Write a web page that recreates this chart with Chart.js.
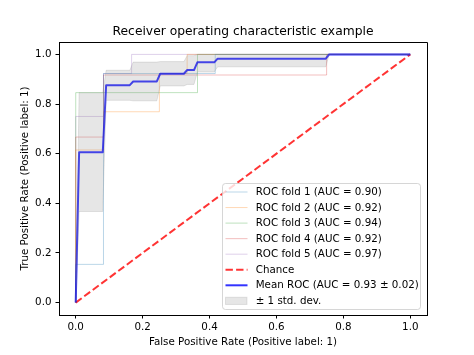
<!DOCTYPE html>
<html><head><meta charset="utf-8">
<script src="https://cdn.jsdelivr.net/npm/chart.js@4"></script>
<style>html,body{margin:0;padding:0;background:#fff;}#wrap{width:474px;height:355px;}</style>
</head><body><div id="wrap"><canvas id="c" width="474" height="355"></canvas></div>
<script>
// ---- data ----
const fold1X = [0, 0, 0.083, 0.083, 0.417, 0.417, 1];
const fold1Y = [0, 0.154, 0.154, 0.923, 0.923, 1, 1];
const fold2X = [0, 0, 0.083, 0.083, 0.25, 0.25, 0.333, 0.333, 1];
const fold2Y = [0, 0.615, 0.615, 0.769, 0.769, 0.923, 0.923, 1, 1];
const fold3X = [0, 0, 0.364, 0.364, 1];
const fold3Y = [0, 0.846, 0.846, 1, 1];
const fold4X = [0, 0, 0.083, 0.083, 0.75, 0.75, 1];
const fold4Y = [0, 0.667, 0.667, 0.917, 0.917, 1, 1];
const fold5X = [0, 0, 0.083, 0.083, 0.167, 0.167, 1];
const fold5Y = [0, 0.75, 0.75, 0.923, 0.923, 1, 1];
const foldAUC = [0.90, 0.92, 0.94, 0.92, 0.97];

const chanceX = [0, 1];
const chanceY = [0, 1];

const meanX     = [0, 0.0101, 0.0808, 0.0909, 0.1616, 0.1717, 0.2424, 0.2525, 0.3232, 0.3333, 0.3535, 0.3636, 0.4141, 0.4242, 0.7475, 0.7576, 1.0];
const meanY     = [0, 0.606, 0.606, 0.876, 0.876, 0.891, 0.891, 0.922, 0.922, 0.937, 0.937, 0.968, 0.968, 0.983, 0.983, 1.0, 1.0];
const bandUpper = [0, 0.846, 0.846, 0.936, 0.936, 0.969, 0.969, 0.971, 0.971, 0.995, 0.995, 1.0, 1.0, 1.0, 1.0, 1.0, 1.0];
const bandLower = [0, 0.367, 0.367, 0.815, 0.815, 0.813, 0.813, 0.873, 0.873, 0.879, 0.879, 0.929, 0.929, 0.950, 0.950, 1.0, 1.0];
const meanAUC = 0.93, stdAUC = 0.02;

const xTicks = [0, 0.2, 0.4, 0.6, 0.8, 1.0];
const yTicks = [0, 0.2, 0.4, 0.6, 0.8, 1.0];

const titleText = 'Receiver operating characteristic example';
const xLabel = 'False Positive Rate (Positive label: 1)';
const yLabel = 'True Positive Rate (Positive label: 1)';

// ---- build ----
const pts = (xs, ys) => xs.map((x, i) => ({x: x, y: ys[i]}));
const foldColors = ['rgba(31,119,180,0.3)', 'rgba(255,127,14,0.3)', 'rgba(44,160,44,0.3)', 'rgba(214,39,40,0.3)', 'rgba(148,103,189,0.3)'];
const foldXs = [fold1X, fold2X, fold3X, fold4X, fold5X];
const foldYs = [fold1Y, fold2Y, fold3Y, fold4Y, fold5Y];
const FONT = "'DejaVu Sans', 'Liberation Sans', sans-serif";

const datasets = foldXs.map((xs, i) => ({
  label: 'ROC fold ' + (i + 1) + ' (AUC = ' + foldAUC[i].toFixed(2) + ')',
  data: pts(xs, foldYs[i]), borderColor: foldColors[i], borderWidth: 1,
  pointRadius: 0, fill: false, order: 10, legendKind: 'line'
}));
datasets.push({label: 'Chance', data: pts(chanceX, chanceY), borderColor: 'rgba(255,0,0,0.8)',
  borderWidth: 2, borderDash: [7.4, 3.2], pointRadius: 0, fill: false, order: 9, legendKind: 'line'});
datasets.push({label: 'Mean ROC (AUC = ' + meanAUC.toFixed(2) + ' \u00b1 ' + stdAUC.toFixed(2) + ')',
  data: pts(meanX, meanY), borderColor: 'rgba(0,0,255,0.8)', borderWidth: 2, borderJoinStyle: 'round',
  pointRadius: 0, fill: false, order: 8, legendKind: 'line'});
datasets.push({label: '\u00b1 1 std. dev.', data: pts(meanX, bandUpper), borderColor: 'rgba(128,128,128,0.2)',
  borderWidth: 1, backgroundColor: 'rgba(128,128,128,0.2)', pointRadius: 0, fill: '+1', order: 7, legendKind: 'patch'});
datasets.push({label: '', data: pts(meanX, bandLower), borderColor: 'rgba(128,128,128,0.2)',
  borderWidth: 1, pointRadius: 0, fill: false, order: 7, legendKind: 'none'});

const decor = {
  id: 'decor',
  afterDraw(chart) {
    const ctx = chart.ctx, a = chart.chartArea;
    ctx.save();
    // top & right spines
    ctx.strokeStyle = '#000'; ctx.lineWidth = 1;
    ctx.beginPath();
    ctx.moveTo(Math.round(a.left), Math.round(a.top) + 0.5);
    ctx.lineTo(Math.round(a.right) + 0.5, Math.round(a.top) + 0.5);
    ctx.lineTo(Math.round(a.right) + 0.5, Math.round(a.bottom));
    ctx.stroke();
    // title
    ctx.fillStyle = '#000';
    ctx.textAlign = 'center'; ctx.textBaseline = 'middle';
    ctx.font = '12.3px ' + FONT;
    ctx.fillText(titleText, (a.left + a.right) / 2, 32);
    // axis labels
    ctx.font = '10.3px ' + FONT;
    ctx.fillText(xLabel, (a.left + a.right) / 2, 342);
    ctx.save();
    ctx.translate(25, (a.top + a.bottom) / 2);
    ctx.rotate(-Math.PI / 2);
    ctx.fillText(yLabel, 0, 0);
    ctx.restore();
    // legend
    const items = chart.data.datasets.filter(d => d.legendKind !== 'none');
    const bx = 222, by = 183, bw = 198, bh = 126;
    ctx.fillStyle = 'rgba(255,255,255,0.8)';
    ctx.strokeStyle = 'rgba(204,204,204,0.8)';
    ctx.lineWidth = 1;
    ctx.beginPath();
    ctx.roundRect(bx + 0.5, by + 0.5, bw, bh, 3);
    ctx.fill(); ctx.stroke();
    ctx.textAlign = 'left'; ctx.textBaseline = 'middle';
    items.forEach((d, i) => {
      const y = 192 + i * 15.55;
      if (d.legendKind === 'patch') {
        ctx.fillStyle = d.backgroundColor;
        ctx.fillRect(225.5, y - 3.6, 21.5, 7.2);
        ctx.strokeStyle = d.borderColor; ctx.lineWidth = 1;
        ctx.strokeRect(225.5, y - 3.6, 21.5, 7.2);
      } else {
        ctx.strokeStyle = d.borderColor; ctx.lineWidth = d.borderWidth;
        ctx.setLineDash(d.borderDash || []);
        ctx.beginPath(); ctx.moveTo(225.5, y); ctx.lineTo(247.5, y); ctx.stroke();
        ctx.setLineDash([]);
      }
      ctx.fillStyle = '#000';
      ctx.fillText(d.label, 255.7, y + 0.5);
    });
    ctx.restore();
  }
};

const tickFont = {family: FONT, size: 10.3};
new Chart(document.getElementById('c'), {
  type: 'line',
  data: {datasets: datasets},
  options: {
    responsive: false, animation: false, devicePixelRatio: 1,
    layout: {padding: {left: 0, right: 47, top: 42, bottom: 0}},
    plugins: {legend: {display: false}, tooltip: {enabled: false}, title: {display: false}},
    elements: {line: {tension: 0}},
    scales: {
      x: {type: 'linear', min: -0.05, max: 1.05,
        afterBuildTicks: s => { s.ticks = xTicks.map(v => ({value: v})); },
        afterFit: s => { s.height = 40; },
        ticks: {callback: v => v.toFixed(1), font: tickFont, color: '#000', padding: 3, maxRotation: 0, autoSkip: false},
        grid: {display: true, drawOnChartArea: false, drawTicks: true, tickLength: 3.5, tickColor: '#000', tickWidth: 1},
        border: {display: true, color: '#000', width: 1}},
      y: {type: 'linear', min: -0.05, max: 1.05,
        afterBuildTicks: s => { s.ticks = yTicks.map(v => ({value: v})); },
        afterFit: s => { s.width = 59; },
        ticks: {callback: v => v.toFixed(1), font: tickFont, color: '#000', padding: 4, autoSkip: false},
        grid: {display: true, drawOnChartArea: false, drawTicks: true, tickLength: 3.5, tickColor: '#000', tickWidth: 1},
        border: {display: true, color: '#000', width: 1}}
    }
  },
  plugins: [decor]
});
</script></body></html>
